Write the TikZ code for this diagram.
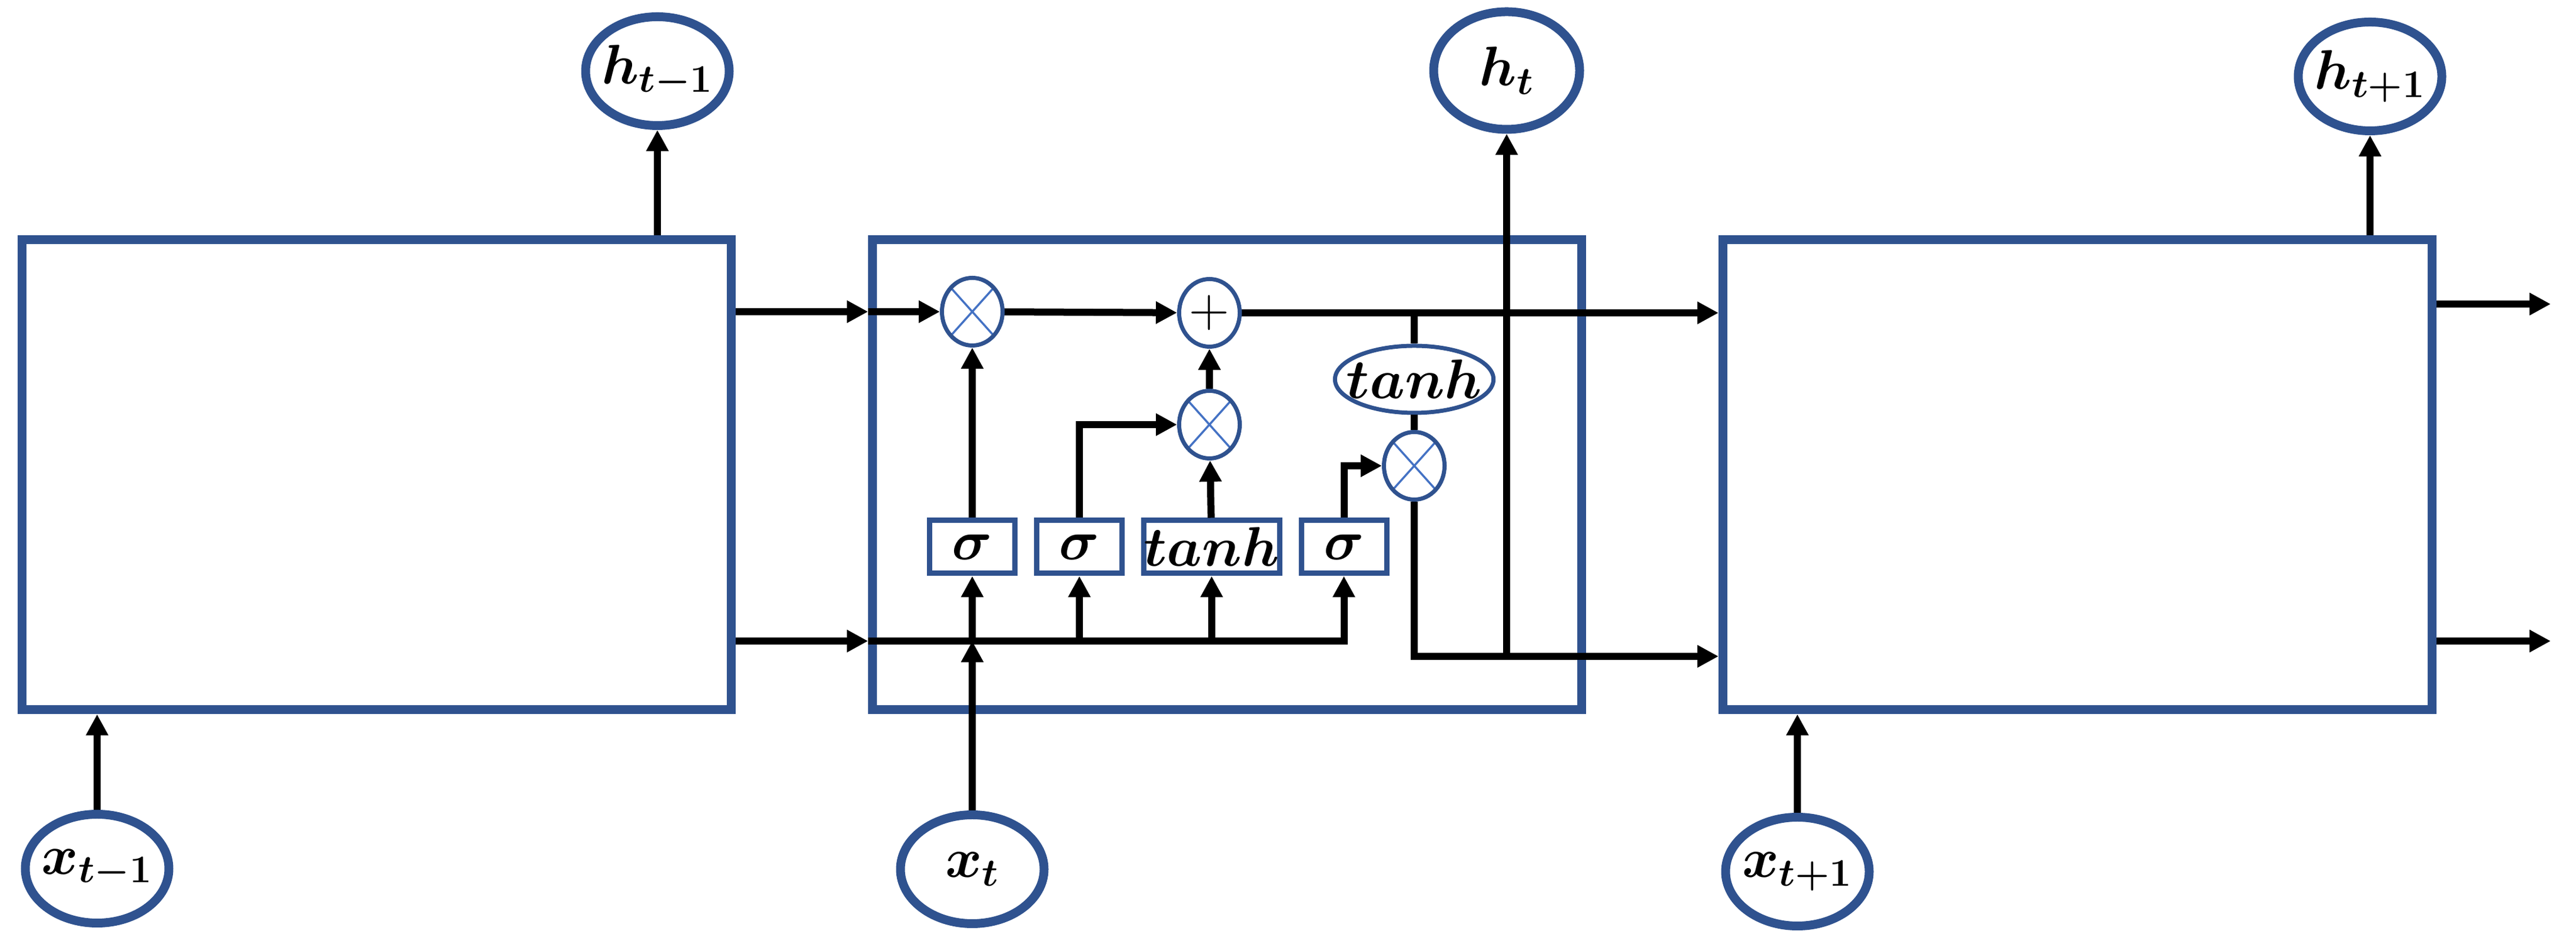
\RequirePackage{fix-cm}
\documentclass[tikz,border=0pt]{standalone}
\usetikzlibrary{arrows.meta,positioning,shapes.geometric}
\definecolor{cellblue}{RGB}{47,82,143}
\definecolor{crossblue}{RGB}{68,114,196}

\begin{document}
\begin{tikzpicture}[->,>={Triangle[length=3.6mm,width=3.6mm]},line width=1.2mm,
                    node distance=2.25cm]
  \tikzstyle{cell}=[rectangle,draw=cellblue,line width=1.5mm,minimum width=12.05cm,minimum height=7.99cm,inner sep=0pt]
  \tikzstyle{io}=[ellipse,draw=cellblue,line width=1.5mm,minimum width=2.44cm,minimum height=1.85cm,inner sep=0pt,inner xsep=-1mm,font=\fontsize{27}{30}\selectfont\boldmath]
  \tikzstyle{gate}=[rectangle,draw=cellblue,line width=0.9mm,minimum width=1.45cm,minimum height=0.9cm,inner sep=0pt,font=\fontsize{27}{30}\selectfont\boldmath]
  \tikzstyle{op}=[ellipse,draw=cellblue,line width=0.7mm,minimum width=1.03cm,minimum height=1.15cm,inner sep=0pt]
  \tikzstyle{mult}=[op,path picture={\draw[-,crossblue,line width=0.35mm]
      (path picture bounding box.north west) -- (path picture bounding box.south east)
      (path picture bounding box.north east) -- (path picture bounding box.south west);}]

  \useasboundingbox (0,0) rectangle (43.77,16);

  % the three cells
  \node[cell] (c1) at (6.40,7.925) {};
  \node[cell] (c2) [right=of c1] {};
  \node[cell] (c3) [right=of c2] {};

  % inputs and outputs
  \node[io] (hprev) at (11.17,14.79) {$h_{t-1}$};
  \node[io,minimum width=2.48cm,minimum height=2cm] (hcur) at (25.60,14.80) {$h_t$};
  \node[io] (hnext) at (40.27,14.70) {$h_{t+1}$};
  \node[io] (xprev) at (1.65,1.23) {$x_{t-1}$};
  \node[io] (xcur) at (16.52,1.22) {$x_t$};
  \node[io] (xnext) at (30.54,1.18) {$x_{t+1}$};

  % gates
  \node[gate] (sg1) at (16.52,6.70) {$\sigma$};
  \node[gate] (sg2) [right=0.28cm of sg1] {$\sigma$};
  \node[gate,minimum width=2.22cm] (tb) [right=0.28cm of sg2] {$tanh$};
  \node[gate] (sg3) [right=0.28cm of tb] {$\sigma$};

  % pointwise operations
  \node[mult] (fm) at (16.52,10.70) {};
  \node[op,font=\fontsize{27}{30}\selectfont] (add) at (20.55,10.68) {$\mathbf{+}$};
  \node[mult] (im) at (20.55,8.78) {};
  \node[op,minimum width=2.3cm,minimum height=1.14cm,inner xsep=-2mm,
        font=\fontsize{27}{30}\selectfont\boldmath] (tc) at (24.03,9.55) {$tanh$};
  \node[mult] (om) at (24.03,8.08) {};

  \coordinate (xrow) at (0,5.10);
  \coordinate (hj) at (25.60,4.84);
  \coordinate (out1) at (43.34,10.83);
  \coordinate (out2) at (43.34,5.10);

  % cell state
  \draw (c1.east |- fm) -- (c2.west |- fm);
  \draw (c2.west |- fm) -- (fm);
  \draw (fm) -- (add);
  \draw (add) -- (c3.west |- add);
  \draw[-] (tc |- add) -- (tc);
  \draw[-] (tc) -- (om);

  % hidden state
  \draw (om) |- (c3.west |- hj);
  \draw (hj) -- (hcur);
  \draw (c1.east |- xrow) -- (c2.west |- xrow);
  \draw (c2.west |- xrow) -| (sg3);
  \draw (sg1 |- xrow) -- (sg1);
  \draw (sg2 |- xrow) -- (sg2);
  \draw (tb |- xrow) -- (tb);
  \draw (xcur) -- (xcur |- xrow);

  % gates to operations
  \draw (sg1) -- (fm);
  \draw (sg2) |- (im);
  \draw (tb) -- (im);
  \draw (im) -- (add);
  \draw (sg3) |- (om);

  % outer cells
  \draw (c1.north -| hprev) -- (hprev);
  \draw (xprev) -- (c1.south -| xprev);
  \draw (c3.north -| hnext) -- (hnext);
  \draw (xnext) -- (c3.south -| xnext);
  \draw (c3.east |- out1) -- (out1);
  \draw (c3.east |- out2) -- (out2);
\end{tikzpicture}
\end{document}
